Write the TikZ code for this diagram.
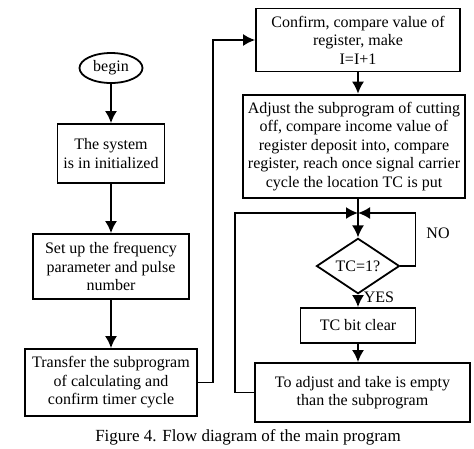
\documentclass[tikz,border=0pt]{standalone}
\usepackage{fontspec}
\setmainfont{Liberation Serif}
\usetikzlibrary{shapes.geometric,arrows.meta}
\tikzset{
  box/.style={draw,line width=1.8pt,align=center,inner sep=1pt},
  ar/.style={-{Latex[length=12pt,width=12pt]},line width=1.8pt},
}
\begin{document}
\begin{tikzpicture}[x=1pt,y=-1pt,font=\fontsize{16}{18.5}\selectfont]
    \useasboundingbox (0,0) rectangle (474,448);
    \node[ellipse,draw,line width=1.8pt,minimum width=63pt,minimum height=30pt,inner sep=0pt](a) at (111,68) {begin};
    \node[box,minimum width=107pt,minimum height=59pt](b) at (111,153.5) {The system\\is in initialized};
    \node[box,minimum width=156pt,minimum height=65pt](c) at (111,266.5) {Set up the frequency\\parameter and pulse\\number};
    \node[box,minimum width=172pt,minimum height=67pt](d) at (111,382.5) {Transfer the subprogram\\of calculating and\\confirm timer cycle};
    \node[box,minimum width=204pt,minimum height=63pt](e) at (358,40) {Confirm, compare value of\\register, make\\I=I+1};
    \node[box,line width=2.6pt,minimum width=222pt,minimum height=103pt](f) at (354,146.5) {Adjust the subprogram of cutting\\off, compare income value of\\register deposit into, compare\\register, reach once signal carrier\\cycle the location TC is put};
    \coordinate (j) at (358,213);
    \node[diamond,draw,line width=1.8pt,minimum width=83pt,minimum height=48pt,inner sep=0pt](g) at (358,266) {TC=1?};
    \node[box,minimum width=115pt,minimum height=35pt](h) at (358,325.5) {TC bit clear};
    \node[box,minimum width=215pt,minimum height=59pt](i) at (362.5,392.5) {To adjust and take is empty\\than the subprogram};
    \node(no) at (438,233) {NO};
    \node(yes) at (379,297) {YES};
    \node[font=\fontsize{17}{20}\selectfont](cap) at (248,437) {Figure 4. Flow diagram of the main program};
    \draw[ar] (a) -- (b);
    \draw[ar] (b) -- (c);
    \draw[ar] (c) -- (d);
    \draw[ar] (d.east) -- ++(15,0) |- (e.west);
    \draw[ar] (e.south -| j) -- (f.north -| j);
    \draw[line width=1.8pt] (f.south -| j) -- (j);
    \draw[ar] (j) -- (g.north);
    \draw[ar] (g.south) -- (h.north);
    \draw[ar] (h.south) -- (i.north -| h.south);
    \draw[ar] (g.east) -- ++(15,0) |- (j);
    \draw[ar] (i.west) -- ++(-19,0) |- (j);
\end{tikzpicture}
\end{document}
